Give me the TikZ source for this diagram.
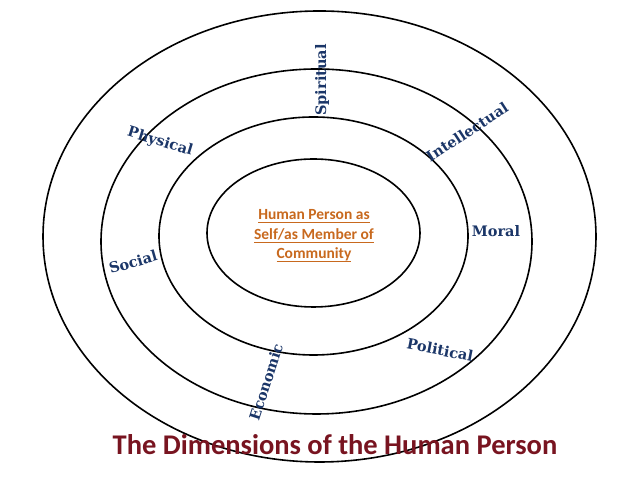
\documentclass[tikz,border=0pt]{standalone}
\usepackage{fontspec}
\setmainfont{Carlito}
\newfontfamily\slabfont{DejaVu Serif}
\definecolor{dimblue}{HTML}{1B3668}
\definecolor{selforange}{HTML}{C8691E}
\definecolor{titlered}{HTML}{781420}
\newcommand\selfline[1]{\underline{\smash{#1}\rule[-1.6pt]{0pt}{1pt}}}
\tikzset{
  ring/.style={line width=1.6pt},
  dimension/.style={font=\slabfont\bfseries\fontsize{14.5}{16}\selectfont,text=dimblue,inner sep=0pt}
}
\begin{document}
\begin{tikzpicture}[x=1pt,y=1pt]
  \useasboundingbox (0,0) rectangle (638,478);
  % the rings
  \draw[ring] (319.5,241.5) ellipse [x radius=276.5,y radius=225.5];
  \draw[ring] (316.5,236.5) ellipse [x radius=215.5,y radius=172.5];
  \draw[ring] (313.5,242) ellipse [x radius=154.5,y radius=119];
  \draw[ring] (313.5,245) ellipse [x radius=106.5,y radius=74];
  \node[align=center,text=selforange,font=\bfseries\fontsize{15.5}{19.5}\selectfont] (self) at (314,237)
    {\selfline{Human Person as}\\\selfline{Self/as Member of}\\\selfline{Community}};
  % the dimensions
  \node[dimension,rotate=90] (spiritual) at (322,398) {Spiritual};
  \node[dimension,rotate=-17] (physical) at (160,336) {Physical};
  \node[dimension,rotate=33] (intellectual) at (467,346) {Intellectual};
  \node[dimension] (moral) at (496,247) {Moral};
  \node[dimension,rotate=16] (social) at (133,216) {Social};
  \node[dimension,rotate=-11] (political) at (440,128) {Political};
  \node[dimension,rotate=72] (economic) at (266,96) {Economic};
  \node[text=titlered,font=\bfseries\fontsize{28.5}{32}\selectfont] (title) at (335,33)
    {The Dimensions of the Human Person};
\end{tikzpicture}
\end{document}
